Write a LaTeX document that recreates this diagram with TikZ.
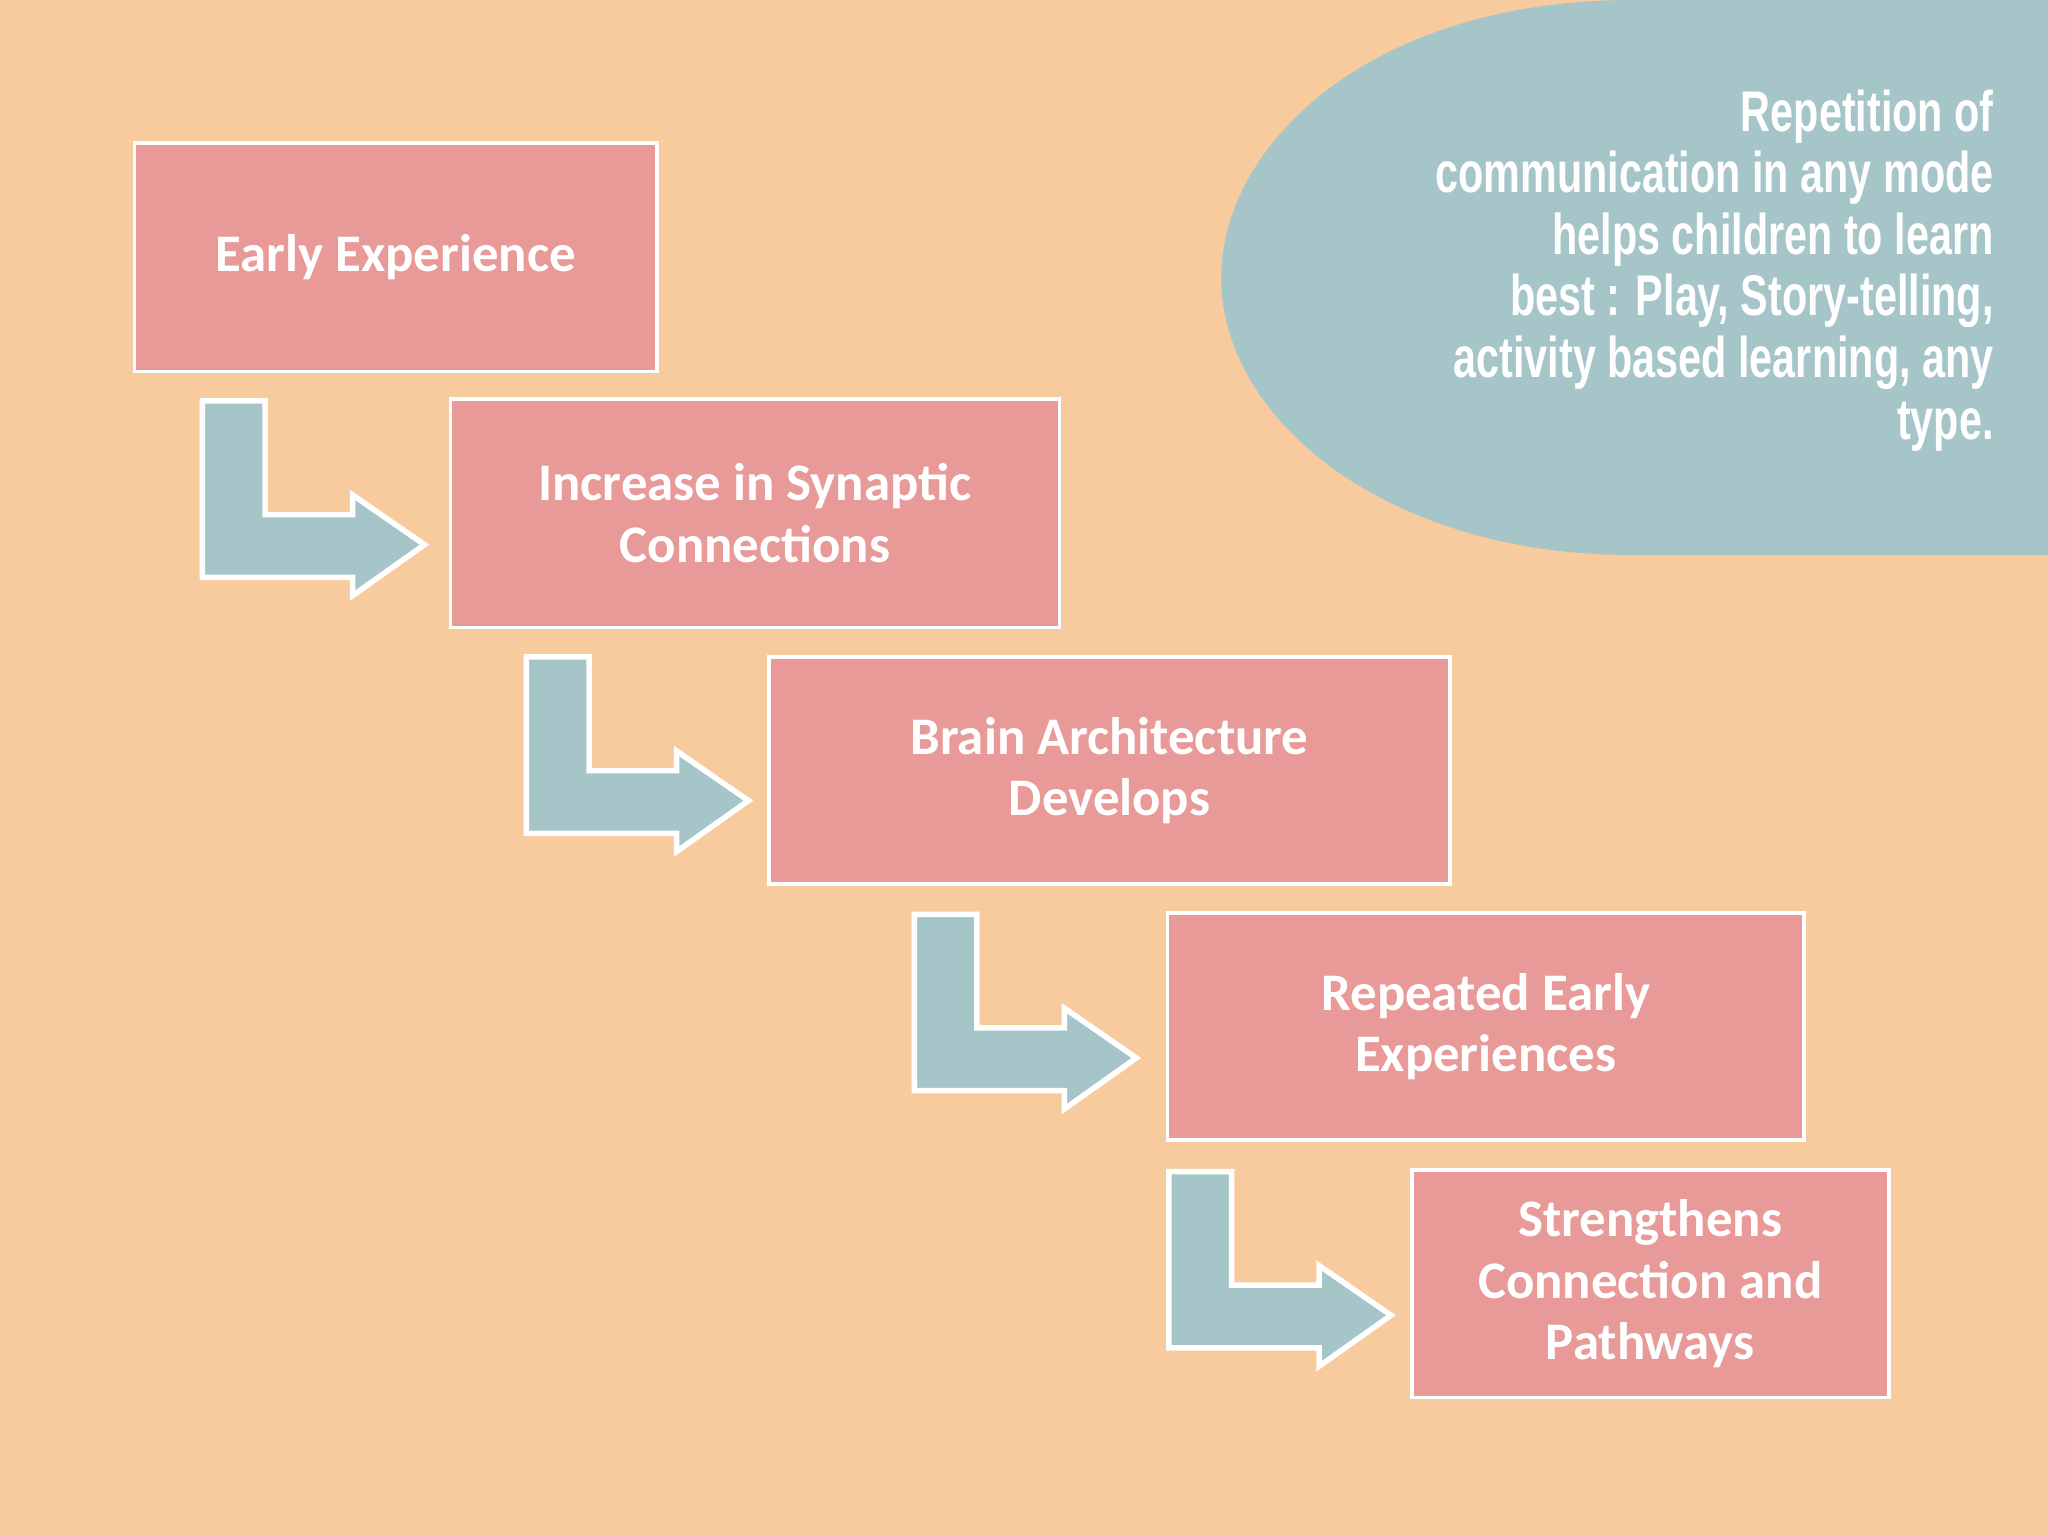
\documentclass[tikz,border=0pt]{standalone}
\usepackage{fontspec}
\setmainfont{Carlito}
\newfontfamily\cond{Liberation Sans}[FakeStretch=0.72]
\definecolor{bg}{HTML}{F8CB9E}
\definecolor{boxc}{HTML}{E89A98}
\definecolor{teal}{HTML}{A5C5C9}
\begin{document}
\begin{tikzpicture}[x=0.01cm,y=-0.01cm,
  box/.style={draw=white,line width=0.8pt,fill=boxc,text=white,font=\bfseries\fontsize{11.5}{13.4}\selectfont,align=center,inner sep=0pt},
  barrow/.style={draw=white,line width=1.2pt,fill=teal}]
\useasboundingbox (0,0) rectangle (1568,1176);
\fill[bg] (0,0) rectangle (1568,1176);
\fill[teal] (1568,0) -- (1250,0) .. controls (1050,0) and (935,110) .. (935,213) .. controls (935,320) and (1060,425) .. (1250,425) -- (1568,425) -- cycle;
\node[anchor=north east,align=right,text=white,font=\cond\bfseries\fontsize{12.5}{13.4}\selectfont,inner sep=0pt] (note) at (1527,68)
 {Repetition of\\communication in any mode\\helps children to learn\\best : Play, Story-telling,\\activity based learning, any\\type.};
\node[box,minimum width=4cm,minimum height=1.75cm] (b1) at (303,197) {Early Experience};
\node[box,minimum width=4.66cm,minimum height=1.75cm] (b2) at (578,393) {Increase in Synaptic\\Connections};
\node[box,minimum width=5.21cm,minimum height=1.74cm] (b3) at (849.5,590) {Brain Architecture\\Develops};
\node[box,minimum width=4.87cm,minimum height=1.74cm] (b4) at (1137.5,786) {Repeated Early\\Experiences};
\node[box,minimum width=3.65cm,minimum height=1.74cm] (b5) at (1263.5,983) {Strengthens\\Connection and\\Pathways};
\foreach \dx/\dy in {0/0,248/196,545/393,740/590}{
 \draw[barrow,shift={(\dx,\dy)}] (155,307) -- (203,307) -- (203,394) -- (270,394) -- (270,379) -- (325,417) -- (270,456) -- (270,442) -- (155,442) -- cycle;
}
\end{tikzpicture}
\end{document}
